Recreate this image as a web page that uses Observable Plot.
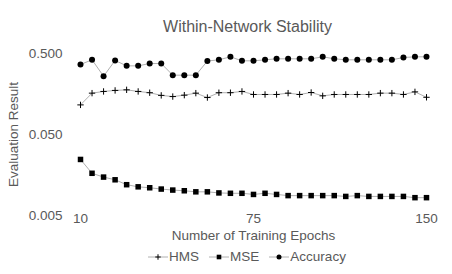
<!DOCTYPE html>
<html><head><meta charset="utf-8">
<script src="https://cdn.jsdelivr.net/npm/d3@7"></script>
<script src="https://cdn.jsdelivr.net/npm/@observablehq/plot@0.6"></script>
<style>
body{margin:0;background:#fff;font-family:"Liberation Sans",Arial,sans-serif;}
#wrap{position:relative;width:452px;height:274px;}
#legend{position:absolute;top:249px;left:0;width:494px;display:flex;justify-content:center;gap:10px;font-size:13.5px;color:#595959;}
#legend span{display:flex;align-items:center;}
#legend svg{margin-right:1px;}
</style></head>
<body><div id="wrap"></div>
<script>
const title = "Within-Network Stability";
const xLabel = "Number of Training Epochs";
const yLabel = "Evaluation Result";
const seriesNames = ["HMS", "MSE", "Accuracy"];
const xTickIndex = [0, 15, 30];
const xTickLabels = ["10", "75", "150"];
const yTicks = [0.005, 0.05, 0.5];
const hms = [0.116, 0.162, 0.170, 0.175, 0.178, 0.170, 0.164, 0.152, 0.147, 0.153, 0.162, 0.143, 0.164, 0.164, 0.170, 0.156, 0.156, 0.156, 0.162, 0.156, 0.165, 0.150, 0.156, 0.156, 0.156, 0.156, 0.162, 0.162, 0.156, 0.168, 0.144];
const mse = [0.0246, 0.0166, 0.0149, 0.0138, 0.0120, 0.0113, 0.0110, 0.0106, 0.0103, 0.0101, 0.0098, 0.0098, 0.0095, 0.0094, 0.0094, 0.0091, 0.0094, 0.0091, 0.0088, 0.0088, 0.0088, 0.0088, 0.0088, 0.0086, 0.0088, 0.0086, 0.0086, 0.0086, 0.0086, 0.0083, 0.0083];
const accuracy = [0.366, 0.418, 0.262, 0.410, 0.352, 0.352, 0.376, 0.376, 0.270, 0.270, 0.270, 0.404, 0.418, 0.455, 0.406, 0.406, 0.418, 0.430, 0.430, 0.430, 0.430, 0.455, 0.430, 0.418, 0.418, 0.418, 0.418, 0.418, 0.446, 0.455, 0.455];

const toRows = (arr) => arr.map((v, i) => ({i, v}));
const H = toRows(hms), M = toRows(mse), A = toRows(accuracy);
const grey = "#595959", lineC = "#b0b0b0";

const chart = Plot.plot({
  width: 452, height: 274,
  marginLeft: 80, marginRight: 26, marginTop: 53, marginBottom: 59,
  style: {fontFamily: "'Liberation Sans', Arial, sans-serif", fontSize: "13.5px", color: grey, background: "white"},
  x: {type: "linear", domain: [0, 30], axis: null},
  y: {type: "log", domain: [0.005, 0.5], axis: null},
  marks: [
    Plot.axisY({ticks: yTicks, tickFormat: d3.format(".3f"), tickSize: 0, tickPadding: 18, fill: grey, label: null, fontSize: 13.5}),
    Plot.axisX({ticks: xTickIndex, tickFormat: (d) => xTickLabels[xTickIndex.indexOf(d)], tickSize: 0, tickPadding: -2, fill: grey, label: null, fontSize: 13.5}),
    Plot.text([title], {frameAnchor: "top", dy: -33, dx: -6, fontSize: 16, fill: grey}),
    Plot.text([xLabel], {frameAnchor: "bottom", dy: 24, fontSize: 13.5, fill: grey}),
    Plot.text([yLabel], {frameAnchor: "left", textAnchor: "middle", dx: -67, rotate: -90, fontSize: 13.5, fill: grey}),
    Plot.line(H, {x: "i", y: "v", stroke: lineC, strokeWidth: 1}),
    Plot.line(M, {x: "i", y: "v", stroke: lineC, strokeWidth: 1}),
    Plot.line(A, {x: "i", y: "v", stroke: lineC, strokeWidth: 1}),
    Plot.dot(H, {x: "i", y: "v", symbol: "plus", stroke: "black", strokeWidth: 1, r: 2.2}),
    Plot.dot(M, {x: "i", y: "v", symbol: "square", fill: "black", r: 3.1}),
    Plot.dot(A, {x: "i", y: "v", symbol: "circle", fill: "black", r: 3})
  ]
});
document.getElementById("wrap").appendChild(chart);

// legend built from the series names with matching symbols
const legend = d3.select("#wrap").append("div").attr("id", "legend");
const syms = [d3.symbolPlus, d3.symbolSquare, d3.symbolCircle];
const sizes = [1.9, 2.6, 2.5];
seriesNames.forEach((name, k) => {
  const s = legend.append("span");
  const svg = s.append("svg").attr("width", 20).attr("height", 10);
  svg.append("line").attr("x1", 0).attr("x2", 20).attr("y1", 5).attr("y2", 5).attr("stroke", lineC);
  const p = svg.append("path").attr("transform", "translate(10,5)")
    .attr("d", d3.symbol(syms[k], Math.PI * sizes[k] * sizes[k])());
  if (k === 0) p.attr("fill", "none").attr("stroke", "black"); else p.attr("fill", "black");
  s.append("span").text(name);
});
</script></body></html>
